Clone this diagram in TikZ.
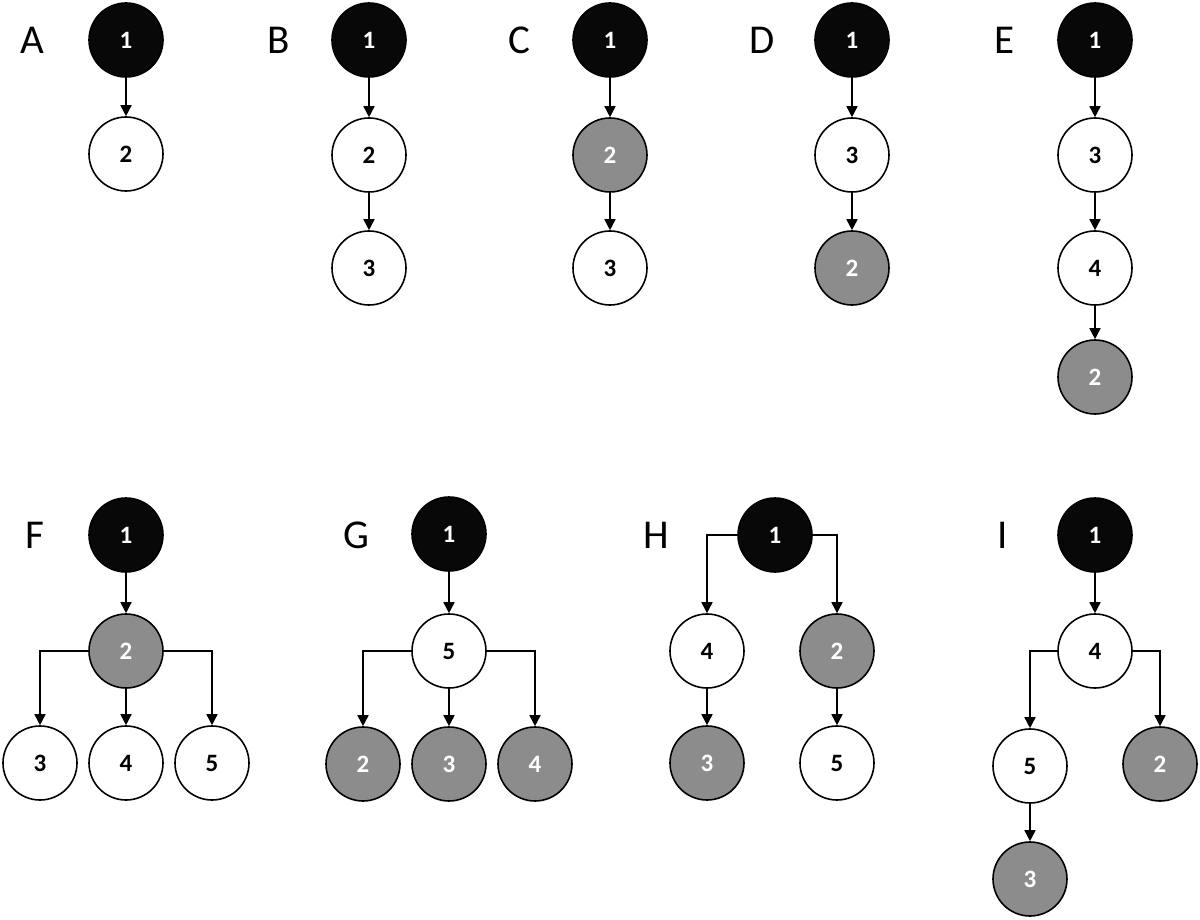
\documentclass[tikz,border=0pt]{standalone}
\usepackage{fontspec}
\setmainfont{Carlito}
\usetikzlibrary{arrows.meta}
\begin{document}
\begin{tikzpicture}[x=1pt,y=-1pt,
  nd/.style={circle,draw=black,line width=1.6pt,minimum size=74pt,inner sep=0pt,font=\bfseries\fontsize{25}{27}\selectfont},
  rootn/.style={nd,fill=black!97,text=white},
  visn/.style={nd,fill=white,text=black},
  grayn/.style={nd,fill={rgb,255:red,140;green,140;blue,140},text=white},
  lab/.style={anchor=west,inner sep=0pt,font=\fontsize{41}{44}\selectfont},
  arr/.style={-{Triangle[length=11pt,width=11pt]},line width=1.6pt}]
\useasboundingbox (0,0) rectangle (1200,920);
% labels
\node[lab] (lA) at (20,40) {A};
\node[lab] (lB) at (267,40) {B};
\node[lab] (lC) at (508,40) {C};
\node[lab] (lD) at (749,40) {D};
\node[lab] (lE) at (994,40) {E};
\node[lab] (lF) at (25,535) {F};
\node[lab] (lG) at (343,535) {G};
\node[lab] (lH) at (643,535) {H};
\node[lab] (lI) at (997,535) {I};
% A
\node[rootn] (a1) at (126,40) {1};
\node[visn] (a2) at (126,154) {2};
\draw[arr] (a1) -- (a2);
% B
\node[rootn] (b1) at (369,40) {1};
\node[visn] (b2) at (369,155) {2};
\node[visn] (b3) at (369,268) {3};
\draw[arr] (b1) -- (b2);
\draw[arr] (b2) -- (b3);
% C
\node[rootn] (c1) at (610,40) {1};
\node[grayn] (c2) at (610,155) {2};
\node[visn] (c3) at (610,268) {3};
\draw[arr] (c1) -- (c2);
\draw[arr] (c2) -- (c3);
% D
\node[rootn] (d1) at (852,40) {1};
\node[visn] (d3) at (852,155) {3};
\node[grayn] (d2) at (852,268) {2};
\draw[arr] (d1) -- (d3);
\draw[arr] (d3) -- (d2);
% E
\node[rootn] (e1) at (1095,40) {1};
\node[visn] (e3) at (1095,155) {3};
\node[visn] (e4) at (1095,268) {4};
\node[grayn] (e2) at (1095,377) {2};
\draw[arr] (e1) -- (e3);
\draw[arr] (e3) -- (e4);
\draw[arr] (e4) -- (e2);
% F
\node[rootn] (f1) at (126,535) {1};
\node[grayn] (f2) at (126,651) {2};
\node[visn] (f3) at (40,763) {3};
\node[visn] (f4) at (126,763) {4};
\node[visn] (f5) at (212,763) {5};
\draw[arr] (f1) -- (f2);
\draw[arr] (f2.west) -| (f3.north);
\draw[arr] (f2) -- (f4);
\draw[arr] (f2.east) -| (f5.north);
% G
\node[rootn] (g1) at (449,534) {1};
\node[visn] (g5) at (449,651) {5};
\node[grayn] (g2) at (363,764) {2};
\node[grayn] (g3) at (449,764) {3};
\node[grayn] (g4) at (535,764) {4};
\draw[arr] (g1) -- (g5);
\draw[arr] (g5.west) -| (g2.north);
\draw[arr] (g5) -- (g3);
\draw[arr] (g5.east) -| (g4.north);
% H
\node[rootn] (h1) at (775,535) {1};
\node[visn] (h4) at (707,651) {4};
\node[grayn] (h2) at (837,651) {2};
\node[grayn] (h3) at (707,763) {3};
\node[visn] (h5) at (837,763) {5};
\draw[arr] (h1.west) -| (h4.north);
\draw[arr] (h1.east) -| (h2.north);
\draw[arr] (h4) -- (h3);
\draw[arr] (h2) -- (h5);
% I
\node[rootn] (i1) at (1095,535) {1};
\node[visn] (i4) at (1095,651) {4};
\node[visn] (i5) at (1030,766) {5};
\node[grayn] (i2) at (1160,764) {2};
\node[grayn] (i3) at (1030,879) {3};
\draw[arr] (i1) -- (i4);
\draw[arr] (i4.west) -| (i5.north);
\draw[arr] (i4.east) -| (i2.north);
\draw[arr] (i5) -- (i3);
\end{tikzpicture}
\end{document}
